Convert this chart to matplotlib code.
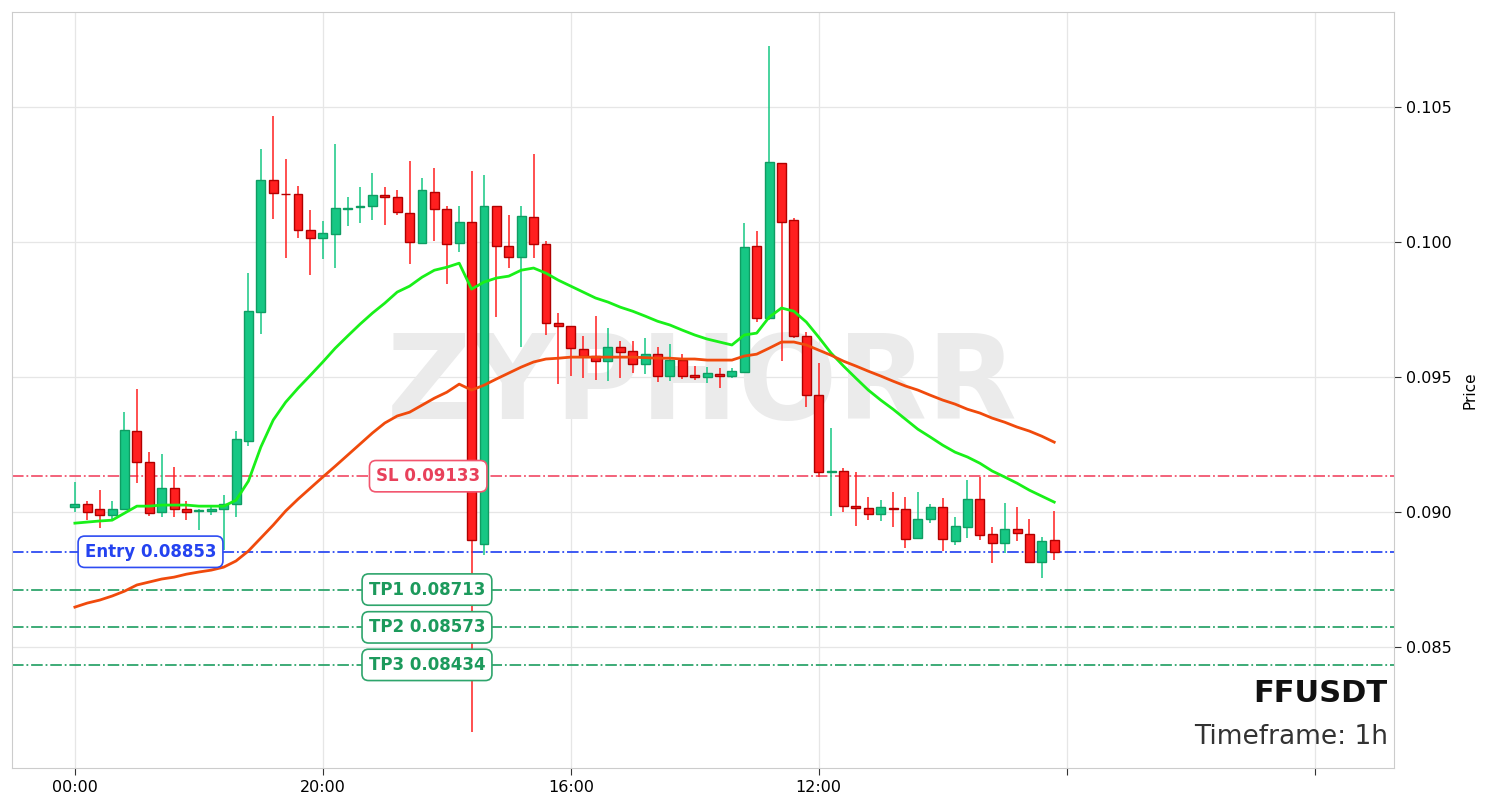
import numpy as np
import matplotlib
matplotlib.use("Agg")
import matplotlib.pyplot as plt

# ---- data ----
symbol = "FFUSDT"
timeframe = "1h"
watermark = "ZYPHORR"

opens = [0.0902, 0.0903, 0.0901, 0.0899, 0.09012, 0.0930, 0.09185, 0.0900, 0.0909, 0.0901,
         0.09003, 0.09003, 0.0901, 0.0903, 0.09263, 0.0974, 0.1023, 0.10180, 0.10178, 0.10044,
         0.10015, 0.10030, 0.10124, 0.10131, 0.10133, 0.10174, 0.10167, 0.10107, 0.09996, 0.10185,
         0.10122, 0.09996, 0.10074, 0.08881, 0.10133, 0.09985, 0.09944, 0.10093, 0.09993, 0.0970,
         0.09689, 0.09604, 0.09578, 0.09559, 0.09611, 0.09596, 0.09548, 0.09585, 0.09504, 0.09563,
         0.09507, 0.0950, 0.09511, 0.09504, 0.09519, 0.09985, 0.09719, 0.10293, 0.10081, 0.09652,
         0.09433, 0.0915, 0.09152, 0.09022, 0.09015, 0.08993, 0.09015, 0.09011, 0.08904, 0.08974,
         0.09019, 0.08893, 0.08944, 0.09048, 0.08919, 0.08885, 0.08937, 0.08919, 0.08815, 0.08896]
highs = [0.0911, 0.0904, 0.0908, 0.0904, 0.0937, 0.09456, 0.09222, 0.09215, 0.09167, 0.0904,
         0.0901, 0.0902, 0.09063, 0.0930, 0.09885, 0.10344, 0.10467, 0.10307, 0.10207, 0.10119,
         0.10078, 0.10363, 0.10167, 0.10204, 0.10256, 0.10204, 0.10193, 0.1030, 0.10237, 0.10274,
         0.10133, 0.10133, 0.10263, 0.10248, 0.10133, 0.10100, 0.10133, 0.10326, 0.10004, 0.09737,
         0.09689, 0.09652, 0.09726, 0.09681, 0.09633, 0.09633, 0.09644, 0.09611, 0.09622, 0.09585,
         0.09541, 0.09537, 0.09533, 0.09533, 0.1007, 0.10041, 0.10726, 0.10293, 0.10089, 0.09667,
         0.09552, 0.09311, 0.09163, 0.09148, 0.09056, 0.09044, 0.09074, 0.09056, 0.09074, 0.0903,
         0.09052, 0.0898, 0.09119, 0.0913, 0.08944, 0.09033, 0.09019, 0.08974, 0.08907, 0.09004]
lows = [0.0900, 0.0897, 0.0894, 0.0897, 0.0901, 0.09107, 0.08985, 0.0898, 0.0898, 0.0897,
        0.08933, 0.0899, 0.0886, 0.0898, 0.09244, 0.09659, 0.10085, 0.09941, 0.10015, 0.09878,
        0.09937, 0.09904, 0.10059, 0.1007, 0.10081, 0.10063, 0.10100, 0.09919, 0.09996, 0.10004,
        0.09844, 0.09963, 0.08185, 0.08841, 0.09722, 0.09904, 0.09611, 0.09941, 0.09656, 0.09474,
        0.09504, 0.09496, 0.09489, 0.09485, 0.09496, 0.09515, 0.09511, 0.09481, 0.09485, 0.09493,
        0.09489, 0.09478, 0.0946, 0.09496, 0.09515, 0.09704, 0.09711, 0.09559, 0.09644, 0.09389,
        0.0913, 0.08985, 0.0900, 0.08948, 0.0897, 0.08967, 0.08944, 0.08867, 0.0890, 0.0896,
        0.08856, 0.08878, 0.08904, 0.08896, 0.08811, 0.08848, 0.08893, 0.08815, 0.08756, 0.08822]
closes = [0.0903, 0.0900, 0.0899, 0.0901, 0.09304, 0.09185, 0.08996, 0.0909, 0.0901, 0.0900,
          0.09006, 0.0901, 0.0903, 0.0927, 0.09744, 0.1023, 0.10181, 0.10178, 0.10044, 0.10015,
          0.10033, 0.10126, 0.10128, 0.10135, 0.10174, 0.10167, 0.10111, 0.1000, 0.10193, 0.10122,
          0.09993, 0.10074, 0.08896, 0.10133, 0.09985, 0.09944, 0.10096, 0.09993, 0.09700, 0.09689,
          0.09607, 0.09578, 0.09559, 0.09611, 0.09593, 0.09548, 0.09585, 0.09504, 0.09563, 0.09504,
          0.09500, 0.09515, 0.09504, 0.09522, 0.09981, 0.09719, 0.10296, 0.10074, 0.09652, 0.09433,
          0.09148, 0.09152, 0.09022, 0.09015, 0.08993, 0.09019, 0.09011, 0.0890, 0.08974, 0.09019,
          0.0890, 0.08948, 0.09048, 0.08915, 0.08885, 0.08937, 0.08922, 0.08815, 0.08893, 0.08852]

ema_fast = [0.08959, 0.08963, 0.08967, 0.08970, 0.08996, 0.09022, 0.09022, 0.09026, 0.09026, 0.09026,
            0.09022, 0.09022, 0.09022, 0.09044, 0.09115, 0.09241, 0.09341, 0.09407, 0.09459, 0.09507,
            0.09556, 0.09607, 0.09652, 0.09696, 0.09737, 0.09774, 0.09815, 0.09837, 0.09870, 0.09896,
            0.09907, 0.09922, 0.09826, 0.09852, 0.09867, 0.09874, 0.09896, 0.09904, 0.09885, 0.09859,
            0.09837, 0.09815, 0.09793, 0.09778, 0.09759, 0.09744, 0.09726, 0.09707, 0.09693, 0.09674,
            0.09656, 0.09641, 0.09630, 0.09619, 0.09656, 0.09663, 0.09722, 0.09756, 0.09744, 0.09704,
            0.09648, 0.09589, 0.09541, 0.09496, 0.09452, 0.09415, 0.09381, 0.09344, 0.09307, 0.09278,
            0.09248, 0.09222, 0.09204, 0.09181, 0.09152, 0.09130, 0.09107, 0.09081, 0.09059, 0.09037]
ema_slow = [0.08648, 0.08663, 0.08674, 0.08689, 0.08707, 0.08730, 0.08741, 0.08752, 0.08759, 0.08770,
            0.08778, 0.08785, 0.08796, 0.08819, 0.08856, 0.08904, 0.08952, 0.09004, 0.09048, 0.09089,
            0.09130, 0.09170, 0.09211, 0.09252, 0.09293, 0.09330, 0.09356, 0.09370, 0.09396, 0.09422,
            0.09444, 0.09474, 0.09452, 0.09470, 0.09493, 0.09515, 0.09537, 0.09556, 0.09567, 0.09570,
            0.09574, 0.09574, 0.09574, 0.09574, 0.09574, 0.09574, 0.09572, 0.09570, 0.09570, 0.09567,
            0.09567, 0.09563, 0.09563, 0.09563, 0.09578, 0.09585, 0.09607, 0.09630, 0.09630, 0.09619,
            0.09600, 0.09581, 0.09559, 0.09541, 0.09522, 0.09504, 0.09485, 0.09467, 0.09452, 0.09433,
            0.09415, 0.09400, 0.09381, 0.09367, 0.09348, 0.09333, 0.09315, 0.09300, 0.09281, 0.09259]

levels = {"SL": 0.09133, "Entry": 0.08853, "TP1": 0.08713, "TP2": 0.08573, "TP3": 0.08434}
level_colors = {"SL": "#f2566f", "Entry": "#2e4cf2", "TP1": "#2ea56c", "TP2": "#2ea56c", "TP3": "#2ea56c"}
level_text_colors = {"SL": "#e8415b", "Entry": "#2443f0", "TP1": "#1c9a5c", "TP2": "#1c9a5c", "TP3": "#1c9a5c"}

tick_pos = [0, 20, 40, 60, 80, 100]
tick_labels = ["00:00", "20:00", "16:00", "12:00", "", ""]
price_ticks = [0.085, 0.090, 0.095, 0.100, 0.105]

# ---- plot ----
fig = plt.figure(figsize=(14.9, 8.08), dpi=100)
ax = fig.add_axes([0.008, 0.0495, 0.9275, 0.9355])

up_col = "#16c784"
up_edge = "#0f9d63"
dn_col = "#ff1f1f"
dn_edge = "#b00000"

x = np.arange(len(opens))
o = np.array(opens); h = np.array(highs); l = np.array(lows); c = np.array(closes)
up = c >= o

# watermark
ax.text(50.6, 0.09465, watermark, fontsize=84, fontweight="bold", color="#ebebeb",
        ha="center", va="center", zorder=1)

# levels
for name, val in levels.items():
    ax.axhline(val, color=level_colors[name], lw=1.3, ls="-.", zorder=2)

# candles
ax.vlines(x[up], l[up], h[up], color=up_col, lw=1.1, zorder=4)
ax.vlines(x[~up], l[~up], h[~up], color=dn_col, lw=1.1, zorder=4)
body_h = np.maximum(np.abs(c - o), 0.00002)
ax.bar(x[up], body_h[up], bottom=np.minimum(o, c)[up], width=0.72,
       color=up_col, edgecolor=up_edge, lw=1.0, zorder=5)
ax.bar(x[~up], body_h[~up], bottom=np.minimum(o, c)[~up], width=0.72,
       color=dn_col, edgecolor=dn_edge, lw=1.0, zorder=5)

# moving averages
ax.plot(x, ema_fast, color="#19f019", lw=2.0, zorder=6)
ax.plot(x, ema_slow, color="#f04a0c", lw=2.0, zorder=6)

# level labels
label_x = {"SL": 28.5, "Entry": 6.1, "TP1": 28.4, "TP2": 28.4, "TP3": 28.4}
for name, val in levels.items():
    ax.text(label_x[name], val, f"{name} {val:.5f}", color=level_text_colors[name],
            fontsize=12, fontweight="bold", ha="center", va="center", zorder=7,
            bbox=dict(boxstyle="round,pad=0.4", fc="white", ec=level_colors[name], lw=1.2))

ax.set_xlim(-5.08, 106.4)
ax.set_ylim(0.08052, 0.10852)
ax.set_xticks(tick_pos)
ax.set_xticklabels(tick_labels)
ax.set_yticks(price_ticks)
ax.set_yticklabels([f"{v:.3f}" for v in price_ticks])
ax.yaxis.tick_right()
ax.yaxis.set_label_position("right")
ax.set_ylabel("Price", fontsize=11, labelpad=8)
ax.tick_params(axis="both", labelsize=11.5, length=5, color="#333333")
ax.grid(True, color="#e6e6e6", lw=0.9, zorder=0)
ax.set_axisbelow(True)
for sp in ax.spines.values():
    sp.set_color("#cccccc")

ax.text(0.9955, 0.098, symbol, transform=ax.transAxes, ha="right", va="center",
        fontsize=22, fontweight="bold", color="#111111", zorder=8)
ax.text(0.9955, 0.041, f"Timeframe: {timeframe}", transform=ax.transAxes, ha="right",
        va="center", fontsize=19, color="#333333", zorder=8)

fig.savefig("out.png", dpi=100)
